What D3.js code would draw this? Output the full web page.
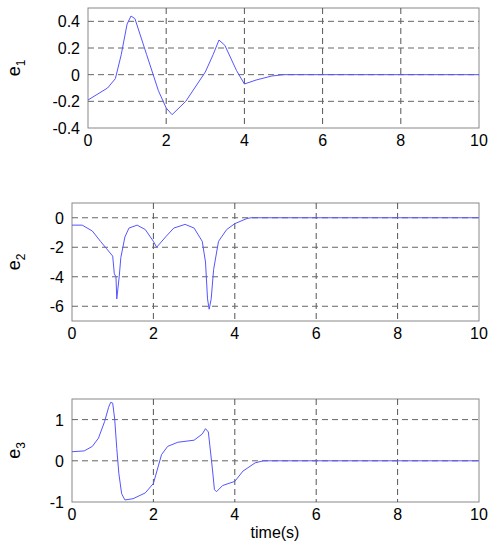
<!DOCTYPE html><html><head><script src="https://d3js.org/d3.v7.min.js"></script>
<style>body{margin:0;background:#fff}text{font-family:"Liberation Sans",Arial,sans-serif}</style></head><body>
<script>
const xTicks=[0,2,4,6,8,10];
const e1=[[0,-0.19],[0.5,-0.1],[0.7,-0.03],[0.85,0.15],[1.0,0.38],[1.1,0.44],[1.2,0.42],[1.5,0.15],[1.8,-0.12],[2.0,-0.25],[2.15,-0.3],[2.5,-0.2],[3.0,0.02],[3.2,0.15],[3.35,0.26],[3.5,0.22],[3.8,0.03],[4.0,-0.07],[4.3,-0.04],[4.7,-0.01],[5,0],[10,0]];
const e2=[[0,-0.5],[0.25,-0.5],[0.5,-0.9],[0.7,-1.6],[0.85,-2.1],[1.0,-2.6],[1.04,-3.8],[1.08,-4.0],[1.1,-5.5],[1.16,-4.0],[1.2,-2.7],[1.3,-1.3],[1.4,-0.7],[1.6,-0.5],[1.8,-0.8],[2.0,-1.6],[2.08,-2.0],[2.3,-1.3],[2.5,-0.7],[2.78,-0.45],[3.0,-0.7],[3.2,-1.6],[3.28,-3.0],[3.33,-5.5],[3.37,-6.2],[3.42,-5.5],[3.48,-3.5],[3.6,-1.6],[3.8,-0.8],[4.0,-0.4],[4.3,-0.05],[4.4,0],[10,0]];
const e3=[[0,0.22],[0.3,0.24],[0.5,0.35],[0.65,0.55],[0.8,0.95],[0.9,1.3],[0.95,1.42],[1.0,1.4],[1.05,1.0],[1.1,0.3],[1.15,-0.3],[1.22,-0.8],[1.3,-0.95],[1.5,-0.92],[1.8,-0.78],[2.0,-0.55],[2.1,-0.2],[2.2,0.15],[2.35,0.35],[2.6,0.45],[3.0,0.5],[3.2,0.65],[3.28,0.78],[3.35,0.7],[3.45,-0.2],[3.5,-0.7],[3.55,-0.75],[3.7,-0.6],[4.0,-0.5],[4.2,-0.25],[4.5,-0.05],[4.7,0],[10,0]];
const panels=[
 {data:e1,dom:[-0.4,0.5],ticks:[-0.4,-0.2,0,0.2,0.4],x0:88,y0:8,y1:128,sub:"1"},
 {data:e2,dom:[-7,1],ticks:[-6,-4,-2,0],x0:72,y0:203,y1:321,sub:"2"},
 {data:e3,dom:[-1,1.5],ticks:[-1,0,1],x0:72,y0:399,y1:502,sub:"3"}];
const svg=d3.select("body").append("svg").attr("width",496).attr("height",550);
panels.forEach(p=>{
 const x=d3.scaleLinear().domain([0,10]).range([p.x0,479]);
 const y=d3.scaleLinear().domain(p.dom).range([p.y1,p.y0]);
 const g=svg.append("g");
 g.append("rect").attr("x",p.x0).attr("y",p.y0).attr("width",479-p.x0).attr("height",p.y1-p.y0).attr("fill","none").attr("stroke","#888");
 xTicks.slice(1,-1).forEach(t=>g.append("line").attr("x1",x(t)).attr("x2",x(t)).attr("y1",p.y0).attr("y2",p.y1).attr("stroke","#555").attr("stroke-dasharray","6,4"));
 p.ticks.forEach(t=>{ if(y(t)>p.y0+1&&y(t)<p.y1-1) g.append("line").attr("x1",p.x0).attr("x2",479).attr("y1",y(t)).attr("y2",y(t)).attr("stroke","#666").attr("stroke-dasharray","6,4");});
 g.append("path").datum(p.data).attr("d",d3.line().x(d=>x(d[0])).y(d=>y(d[1]))).attr("fill","none").attr("stroke","#5555ff").attr("stroke-width",1);
 xTicks.forEach(t=>g.append("text").attr("x",x(t)).attr("y",p.y1+18).attr("text-anchor","middle").attr("font-size",16).text(t));
 p.ticks.forEach(t=>g.append("text").attr("x",p.x0-8).attr("y",y(t)+6).attr("text-anchor","end").attr("font-size",16).text(t));
 const lt=g.append("text").attr("transform",`translate(20,${(p.y0+p.y1)/2}) rotate(-90)`).attr("text-anchor","middle").attr("font-size",18);
 lt.append("tspan").text("e");lt.append("tspan").attr("font-size",12).attr("dy",5).text(p.sub);
});
svg.append("text").attr("x",275).attr("y",538).attr("text-anchor","middle").attr("font-size",16).text("time(s)");
</script></body></html>
